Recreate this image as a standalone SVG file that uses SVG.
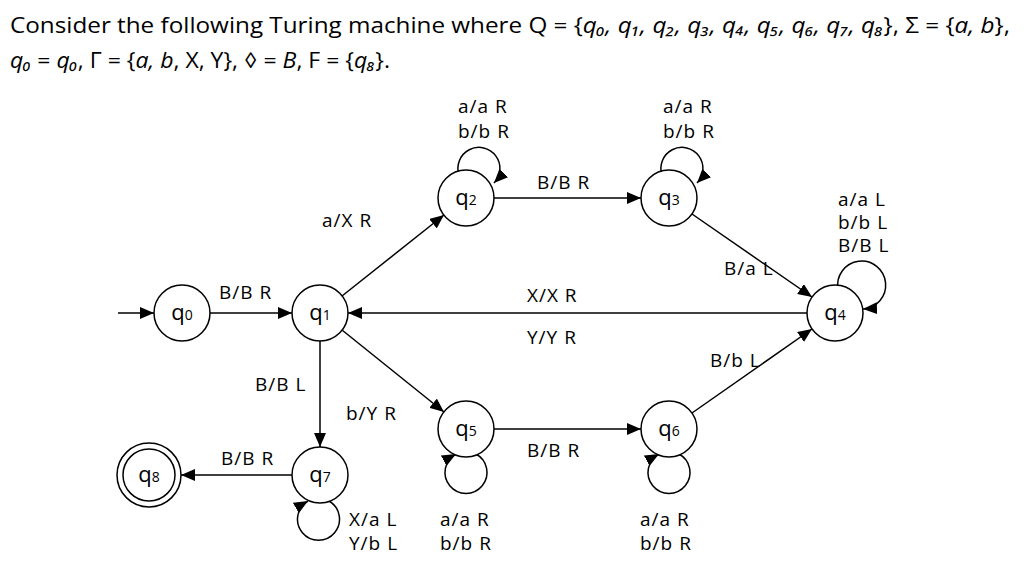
<svg xmlns="http://www.w3.org/2000/svg" width="1024" height="580" viewBox="0 0 1024 580">
<style>
.t{font-family:"Open Sans","Liberation Sans",sans-serif;font-size:22px;fill:#000}
.l{font-family:"Open Sans","Liberation Sans",sans-serif;font-size:19px;letter-spacing:1px;fill:#000}
.q{font-family:"Open Sans","Liberation Sans",sans-serif;font-size:22px;fill:#000}
.n{fill:#fff;stroke:#000;stroke-width:1.5}
.e{fill:none;stroke:#000;stroke-width:1.5}
.s{font-size:14px}
</style>
<defs><marker id="a" viewBox="0 0 14 12" refX="14" refY="6" markerWidth="14" markerHeight="12" markerUnits="userSpaceOnUse" orient="auto"><path d="M0,0L14,6L0,12z" fill="#000"/></marker></defs>
<text class="t" x="10" y="33" textLength="1000" lengthAdjust="spacingAndGlyphs">Consider the following Turing machine where Q = {<tspan font-style="italic">q₀, q₁, q₂, q₃, q₄, q₅, q₆, q₇, q₈</tspan>}, Σ = {<tspan font-style="italic">a, b</tspan>},</text>
<text class="t" x="10" y="68" textLength="380" lengthAdjust="spacingAndGlyphs"><tspan font-style="italic">q₀</tspan> = <tspan font-style="italic">q₀</tspan>, Γ = {<tspan font-style="italic">a, b</tspan>, X, Y}, ◊ = <tspan font-style="italic">B</tspan>, F = {<tspan font-style="italic">q₈</tspan>}.</text>
<g id="edges">
<path class="e" d="M118,313H154" marker-end="url(#a)"/>
<path class="e" d="M210,313H292" marker-end="url(#a)"/>
<path class="e" d="M342,296L444,215" marker-end="url(#a)"/>
<path class="e" d="M494,198H641" marker-end="url(#a)"/>
<path class="e" d="M692,214L812,297" marker-end="url(#a)"/>
<path class="e" d="M807,313H348" marker-end="url(#a)"/>
<path class="e" d="M342,330L444,412" marker-end="url(#a)"/>
<path class="e" d="M494,429H641" marker-end="url(#a)"/>
<path class="e" d="M692,413L812,329" marker-end="url(#a)"/>
<path class="e" d="M320,341V447" marker-end="url(#a)"/>
<path class="e" d="M292,475H181" marker-end="url(#a)"/>
<path class="e" d="M459,175A21,21 0 1 1 494,183" marker-end="url(#a)"/>
<path class="e" d="M662,175A21,21 0 1 1 697,183" marker-end="url(#a)"/>
<path class="e" d="M838,289A24,24 0 1 1 863,309" marker-end="url(#a)"/>
<path class="e" d="M476,454A21,21 0 1 1 456,454" marker-end="url(#a)"/>
<path class="e" d="M679,454A21,21 0 1 1 659,454" marker-end="url(#a)"/>
<path class="e" d="M329,501A21,21 0 1 1 308,501" marker-end="url(#a)"/>
</g>
<g id="labels">
<text class="l" x="219" y="299">B/B R</text>
<text class="l" x="322" y="227">a/X R</text>
<text class="l" x="458" y="113">a/a R</text><text class="l" x="458" y="138">b/b R</text>
<text class="l" x="663" y="113">a/a R</text><text class="l" x="663" y="138">b/b R</text>
<text class="l" x="537" y="189">B/B R</text>
<text class="l" x="838" y="206">a/a L</text><text class="l" x="838" y="229">b/b L</text><text class="l" x="838" y="252">B/B L</text>
<text class="l" x="724" y="275">B/a L</text>
<text class="l" x="527" y="302">X/X R</text>
<text class="l" x="527" y="344">Y/Y R</text>
<text class="l" x="710" y="367">B/b L</text>
<text class="l" x="255" y="391">B/B L</text>
<text class="l" x="346" y="420">b/Y R</text>
<text class="l" x="527" y="457">B/B R</text>
<text class="l" x="221" y="465">B/B R</text>
<text class="l" x="349" y="526">X/a L</text><text class="l" x="349" y="550">Y/b L</text>
<text class="l" x="440" y="526">a/a R</text><text class="l" x="440" y="550">b/b R</text>
<text class="l" x="640" y="526">a/a R</text><text class="l" x="640" y="550">b/b R</text>
</g>
<g id="q0"><circle class="n" cx="182" cy="313" r="28"/><text class="q" x="182" y="320" text-anchor="middle">q<tspan class="s">0</tspan></text></g>
<g id="q1"><circle class="n" cx="320" cy="313" r="28"/><text class="q" x="320" y="320" text-anchor="middle">q<tspan class="s">1</tspan></text></g>
<g id="q2"><circle class="n" cx="466" cy="198" r="28"/><text class="q" x="466" y="205" text-anchor="middle">q<tspan class="s">2</tspan></text></g>
<g id="q3"><circle class="n" cx="669" cy="198" r="28"/><text class="q" x="669" y="205" text-anchor="middle">q<tspan class="s">3</tspan></text></g>
<g id="q4"><circle class="n" cx="835" cy="313" r="28"/><text class="q" x="835" y="320" text-anchor="middle">q<tspan class="s">4</tspan></text></g>
<g id="q5"><circle class="n" cx="466" cy="429" r="28"/><text class="q" x="466" y="436" text-anchor="middle">q<tspan class="s">5</tspan></text></g>
<g id="q6"><circle class="n" cx="669" cy="429" r="28"/><text class="q" x="669" y="436" text-anchor="middle">q<tspan class="s">6</tspan></text></g>
<g id="q7"><circle class="n" cx="320" cy="475" r="28"/><text class="q" x="320" y="482" text-anchor="middle">q<tspan class="s">7</tspan></text></g>
<g id="q8"><circle class="n" cx="149" cy="475" r="32"/><circle class="n" cx="149" cy="475" r="26"/><text class="q" x="149" y="482" text-anchor="middle">q<tspan class="s">8</tspan></text></g>
</svg>
